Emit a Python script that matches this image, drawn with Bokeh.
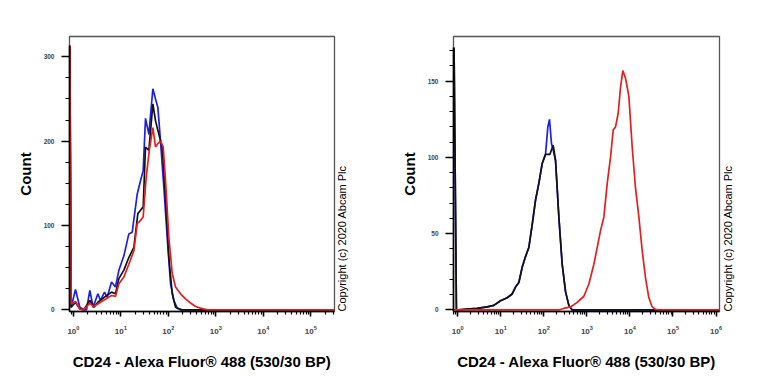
import numpy as np
from math import pi
from bokeh.plotting import figure
from bokeh.layouts import row
from bokeh.models import FixedTicker, Range1d, LinearAxis
from bokeh.embed import file_html
from bokeh.resources import INLINE

# ---------------- data (x in log10 decades of fluorescence, y = count) ----------------
left_blue_log10 = [-0.075, -0.047, 0.044, 0.136, 0.22, 0.276, 0.346, 0.417, 0.515, 0.571, 0.655, 0.712,
                   0.803, 0.887, 0.958, 1.063, 1.168, 1.239, 1.344, 1.414, 1.470, 1.519, 1.590, 1.674,
                   1.730, 1.779, 1.835, 1.906, 1.976, 2.046, 2.117, 2.187, 2.292, 5.49]
left_blue_count = [313, 3, 24, 3, 0, 0, 23, 3, 19, 11, 21, 15, 33, 27, 47, 64, 90, 92, 137, 153, 165, 227,
                   208, 262, 250, 240, 200, 145, 86, 31, 11, 2, 0, 0]

left_black_log10 = [-0.075, -0.047, 0.044, 0.136, 0.22, 0.346, 0.431, 0.515, 0.655, 0.803, 0.887, 0.958,
                    1.063, 1.168, 1.274, 1.358, 1.414, 1.470, 1.519, 1.590, 1.674, 1.730, 1.801, 1.871,
                    1.941, 2.011, 2.082, 2.152, 2.257, 5.49]
left_black_count = [313, 3, 9, 1, 0, 11, 3, 9, 15, 21, 19, 37, 47, 62, 74, 114, 118, 122, 193, 189, 244,
                     224, 208, 193, 133, 62, 19, 3, 0, 0]

left_red_log10 = [-0.075, -0.047, 0.044, 0.136, 0.22, 0.346, 0.417, 0.515, 0.655, 0.803, 0.887, 0.958,
                  1.063, 1.168, 1.274, 1.344, 1.414, 1.470, 1.533, 1.604, 1.674, 1.730, 1.779, 1.835,
                  1.892, 1.941, 2.011, 2.082, 2.152, 2.257, 2.362, 2.468, 2.573, 2.678, 2.819, 5.49]
left_red_count = [313, 7, 10, 1, 0, 8, 4, 7, 12, 17, 16, 31, 39, 54, 70, 102, 106, 110, 157, 191, 216,
                  193, 197, 200, 193, 153, 86, 43, 27, 19, 13, 8, 4, 2, 0, 0]

right_blue_log10 = [-0.085, -0.03, 0.142, 0.452, 0.684, 0.839, 0.994, 1.149, 1.265, 1.342, 1.420, 1.497,
                    1.575, 1.652, 1.730, 1.807, 1.884, 1.962, 2.039, 2.093, 2.132, 2.178, 2.217, 2.272,
                    2.349, 2.426, 2.504, 2.581, 2.659, 6.07]
right_blue_count = [172, 0, 0.4, 1, 2, 3, 6, 8, 10.5, 15, 18, 28, 35, 41, 56, 72, 83, 96, 102, 120, 125,
                    109, 105, 98, 61, 30, 12, 3, 0, 0]

right_black_log10 = [-0.085, -0.03, 0.142, 0.452, 0.684, 0.839, 0.994, 1.149, 1.265, 1.342, 1.420, 1.497,
                     1.575, 1.652, 1.730, 1.807, 1.884, 1.962, 2.039, 2.140, 2.217, 2.272, 2.349, 2.426,
                     2.504, 2.581, 2.659, 6.07]
right_black_count = [172, 0, 0.4, 1, 2, 3, 6, 8, 10.5, 15, 18, 28, 35, 41, 56, 72, 83, 96, 102, 102, 108,
                      98, 61, 30, 12, 3, 0, 0]

right_red_log10 = [-0.09, 2.349, 2.465, 2.620, 2.775, 2.930, 3.046, 3.162, 3.240, 3.317, 3.395, 3.472,
                   3.549, 3.611, 3.665, 3.727, 3.781, 3.835, 3.897, 3.975, 4.052, 4.129, 4.207, 4.284,
                   4.362, 4.439, 4.517, 4.594, 4.710, 6.07]
right_red_count = [0, 0, 1, 2, 5, 9, 17, 30, 41, 52, 61, 83, 100, 118, 120, 129, 146, 157, 152, 140, 107,
                   80, 61, 39, 21, 8, 2, 0.4, 0, 0]

left_x_ticks = [1, 10, 100, 1000, 10000, 100000]
right_x_ticks = [1, 10, 100, 1000, 10000, 100000, 1000000]
left_y_ticks = [0, 100, 200, 300]
right_y_ticks = [0, 50, 100, 150]

x_title = "CD24 - Alexa Fluor® 488 (530/30 BP)"
y_title = "Count"
copyright_text = "Copyright (c) 2020 Abcam Plc"

BLUE = "#1e1ee6"
BLACK = "#111111"
RED = "#e61e1e"
FONT = "Liberation Sans"


def panel(width, mb_left, mb_right, x_lo, x_hi, y_lo, y_hi, y_top, x_ticks, y_ticks, y_minor_step,
          curves, cr_standoff):
    p = figure(width=width, height=380, x_axis_type="log",
               x_range=Range1d(10 ** x_lo, 10 ** x_hi), y_range=Range1d(y_lo, y_hi),
               output_backend="svg", toolbar_location=None,
               min_border_left=mb_left, min_border_right=mb_right,
               min_border_top=36, min_border_bottom=69)
    p.xgrid.visible = False
    p.ygrid.visible = False
    p.outline_line_color = "#555555"
    p.outline_line_width = 1.3
    p.background_fill_color = "white"
    p.border_fill_color = "white"

    minor_x = [m * t for t in [0.1] + x_ticks for m in range(2, 10)]
    p.xaxis.ticker = FixedTicker(ticks=x_ticks, minor_ticks=minor_x)
    p.yaxis.ticker = FixedTicker(ticks=y_ticks,
                                 minor_ticks=list(np.arange(0, y_top + 1, y_minor_step)))
    p.yaxis.bounds = (y_lo, y_top)

    for ax in (p.xaxis[0], p.yaxis[0]):
        ax.axis_line_width = 1.6
        ax.axis_line_color = "black"
        ax.major_tick_line_width = 1.6
        ax.minor_tick_line_width = 1.2
        ax.major_tick_in = 0
        ax.minor_tick_in = 0
        ax.major_label_text_font = FONT
        ax.major_label_text_font_style = "bold"
        ax.axis_label_text_font = FONT
        ax.axis_label_text_font_style = "bold"
        ax.axis_label_text_font_size = "15px"
        ax.axis_label_text_color = "black"
    p.xaxis.major_tick_out = 5
    p.xaxis.minor_tick_out = 3
    p.yaxis.major_tick_out = 8
    p.yaxis.minor_tick_out = 4
    p.xaxis.major_label_text_font_size = "8px"
    p.yaxis.major_label_text_font_size = "6.5px"
    p.xaxis.major_label_standoff = 9
    p.yaxis.major_label_standoff = 7
    p.xaxis.axis_label_standoff = 16
    p.yaxis.axis_label_standoff = 7
    p.xaxis.axis_label = x_title
    p.yaxis.axis_label = y_title

    for xs, ys, color in curves:
        p.line(10 ** np.array(xs), ys, line_color=color, line_width=1.7)

    # copyright note: a bare right-hand axis whose single tick label is the text
    cax = LinearAxis(ticker=FixedTicker(ticks=[y_lo]), major_label_overrides={y_lo: copyright_text},
                     axis_line_color=None, major_tick_line_color=None, minor_tick_line_color=None,
                     major_tick_out=0, major_tick_in=0, minor_tick_out=0, minor_tick_in=0,
                     major_label_standoff=cr_standoff, major_label_orientation=pi / 2,
                     major_label_text_font=FONT, major_label_text_font_size="11px",
                     major_label_text_font_style="normal", major_label_text_color="black")
    p.add_layout(cax, "right")
    return p


p1 = panel(384, 69, 50, -0.082, 5.50, -2, 324, 313, left_x_ticks, left_y_ticks, 25,
           [(left_blue_log10, left_blue_count, BLUE),
            (left_black_log10, left_black_count, BLACK),
            (left_red_log10, left_red_count, RED)], 7)
p2 = panel(380, 69, 45, -0.098, 6.08, -1, 179.3, 172, right_x_ticks, right_y_ticks, 10,
           [(right_blue_log10, right_blue_count, BLUE),
            (right_black_log10, right_black_count, BLACK),
            (right_red_log10, right_red_count, RED)], 8)

layout = row(p1, p2)
open("out.html", "w").write(file_html(layout, INLINE))
